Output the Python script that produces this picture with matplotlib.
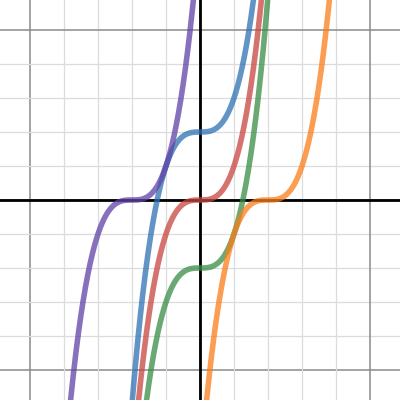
import numpy as np
import matplotlib
matplotlib.use("Agg")
import matplotlib.pyplot as plt

# y = (x - h)^3 + k
names = ["red", "blue", "green", "purple", "orange"]
h_shift = [0, 0, 0, -2, 2]
k_shift = [0, 2, -2, 0, 0]
colors = ["#c74440", "#2d70b3", "#388c46", "#6042a6", "#fa7e19"]

lim = 200 / 34.0

fig = plt.figure(figsize=(4, 4), dpi=100)
ax = fig.add_axes([0, 0, 1, 1])
ax.set_xlim(-lim, lim)
ax.set_ylim(-lim, lim)
ax.axis("off")

for v in range(-6, 7):
    major = v % 5 == 0
    c = "#8a8a8a" if major else "#dcdcdc"
    lw = 1.1 if major else 0.9
    ax.axvline(v, color=c, lw=lw, zorder=0)
    ax.axhline(v, color=c, lw=lw, zorder=0)
ax.axhline(0, color="black", lw=2, zorder=1)
ax.axvline(0, color="black", lw=2, zorder=1)

x = np.linspace(-lim, lim, 2000)
for h, k, c in zip(h_shift, k_shift, colors):
    ax.plot(x, (x - h) ** 3 + k, color=c, lw=4, alpha=0.75, zorder=2,
            solid_capstyle="round")

fig.savefig("out.png", dpi=100)
